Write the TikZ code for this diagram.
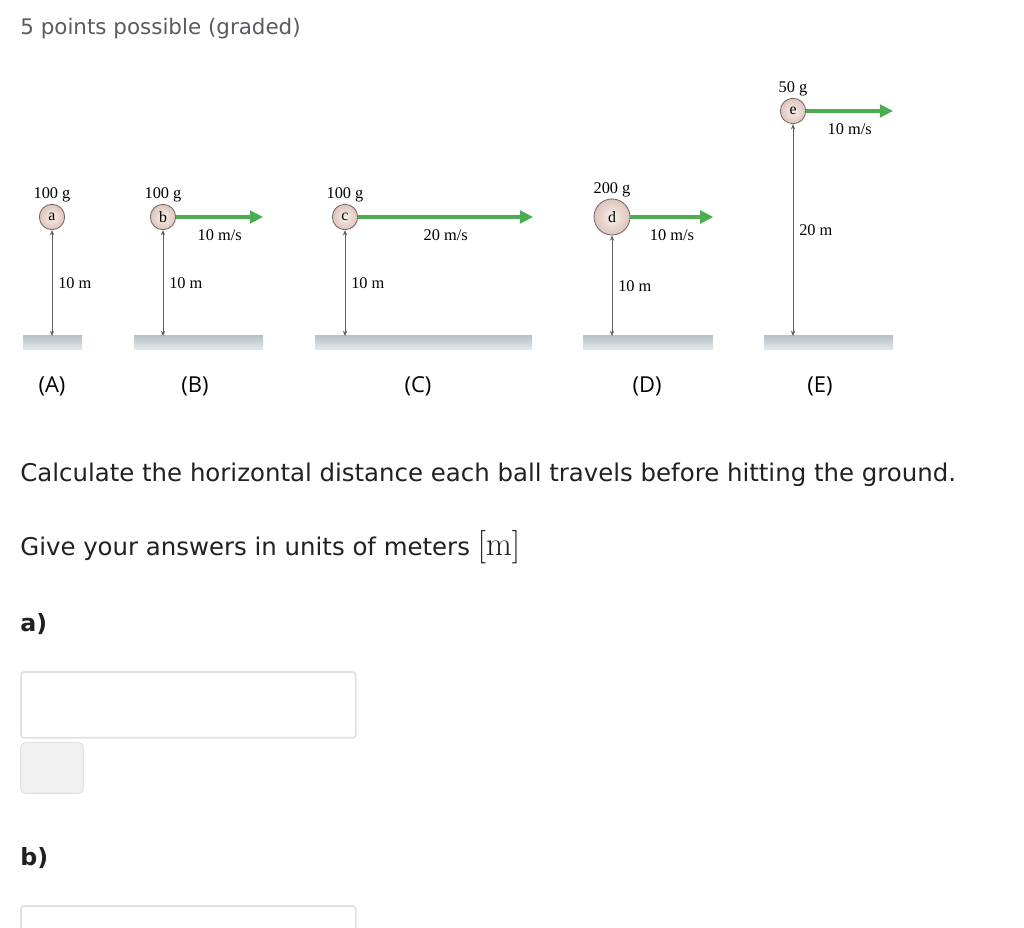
\RequirePackage{fix-cm}
\documentclass[tikz,border=0pt]{standalone}
\usepackage[no-math]{fontspec}
\usepackage{amsmath}
\usepackage{tikz}
\usepackage{xcolor}
\usetikzlibrary{positioning, arrows.meta}
\setmainfont{DejaVu Sans}
\newfontfamily\serifnum{Liberation Serif}
\newfontfamily\casefont{Open Sans}

\definecolor{velgreen}{RGB}{76,172,82}
\definecolor{balledge}{RGB}{122,106,102}
\definecolor{ballin}{RGB}{248,240,237}
\definecolor{ballout}{RGB}{220,196,187}
\definecolor{dimgray}{RGB}{95,95,95}
\definecolor{groundtop}{RGB}{184,196,200}
\definecolor{groundbot}{RGB}{230,234,236}
\definecolor{titlegray}{RGB}{88,92,98}
\definecolor{bodytext}{RGB}{33,33,33}
\definecolor{boxedge}{RGB}{223,226,229}
\definecolor{btnfill}{RGB}{240,240,240}

\begin{document}
\begin{tikzpicture}[x=0.02cm, y=-0.02cm, >={Stealth[length=3pt,width=2.4pt]},
    ball/.style={circle, draw=balledge, line width=0.5pt, inner sep=0pt,
        inner color=ballin, outer color=ballout,
        font=\serifnum\fontsize{9}{10}\selectfont},
    num/.style={font=\serifnum\fontsize{9.3}{11}\selectfont, text=black},
    dim/.style={<->, draw=dimgray, line width=0.45pt},
    vel/.style={-{Triangle[length=7.6pt,width=7.2pt]}, draw=velgreen, line width=2pt},
    ground/.style={rectangle, inner sep=0pt, outer sep=0pt,
        top color=groundtop, bottom color=groundbot},
    caselbl/.style={font=\casefont\fontsize{12.5}{15}\selectfont, text=black},
    headline/.style={inner sep=0pt, anchor=base west, text=titlegray,
        font=\fontsize{12.2}{15}\selectfont},
    bodyline/.style={inner sep=0pt, anchor=base west, text=bodytext,
        font=\fontsize{13.9}{17}\selectfont},
    partlbl/.style={inner sep=0pt, anchor=base west, text=bodytext,
        font=\bfseries\fontsize{13.5}{16}\selectfont},
    answerbox/.style={rectangle, anchor=north west, draw=boxedge, line width=1pt,
        rounded corners=2pt, fill=white, minimum width=6.7cm, minimum height=1.32cm},
    checkbtn/.style={rectangle, anchor=north west, draw=boxedge, line width=0.6pt,
        rounded corners=3pt, fill=btnfill, minimum width=1.26cm, minimum height=1.02cm}]

    % Fix the page size
    \clip (0,0) rectangle (1024,928);
    \fill[white] (0,0) rectangle (1024,928);

    % Heading
    \node[headline] (head) at (20,35) {5 points possible (graded)};

    % Draw the five cases
    \foreach \n/\x/\y/\sz/\m/\gl/\gr/\h/\lab/\lx in {
        a/52/217/25.4/100/23/82/10/A/52,
        b/163/217/25.4/100/134/263/10/B/195,
        c/345/217/25.4/100/315/532/10/C/418,
        d/612/217/36/200/583/713/10/D/647,
        e/793/111/25.4/50/764/893/20/E/820} {
        \node[ground, anchor=north west, minimum width={(\gr-\gl)*0.02cm},
            minimum height=0.28cm] (gnd\n) at (\gl,336) {};
        \node[ball, minimum size={\sz*0.02cm}] (\n) at (\x,\y) {\n}; % the ball
        \node[num, above=-2.5pt of \n] (mass\n) {\m~g};
        \draw[dim] (\n.south) -- (\n.south |- gnd\n.north)
            node[num, midway, right] (ht\n) {\h~m}; % height
        \node[caselbl] (case\n) at (\lx,386) {(\lab)};
    }

    % Draw the launch velocities
    \foreach \n/\len/\s in {b/87/10, c/175/20, d/83/10, e/87/10} {
        \draw[vel] (\n.east) -- ++(\len,0) coordinate (tip\n)
            node[num, midway, below=3pt] (spd\n) {\s~m/s};
    }

    % Question text
    \node[bodyline] (task) at (20,482)
        {Calculate the horizontal distance each ball travels before hitting the ground.};
    \node[bodyline] (units) at (20,556)
        {Give your answers in units of meters {\fontsize{19}{22}\selectfont$[\mathrm{m}]$}};

    % Answer fields
    \node[partlbl] (parta) at (20,631) {a)};
    \node[answerbox] (inputa) at (20,671) {};
    \node[checkbtn] (btna) at (20,742) {};
    \node[partlbl] (partb) at (20,865) {b)};
    \node[answerbox] (inputb) at (20,905) {};

\end{tikzpicture}
\end{document}
